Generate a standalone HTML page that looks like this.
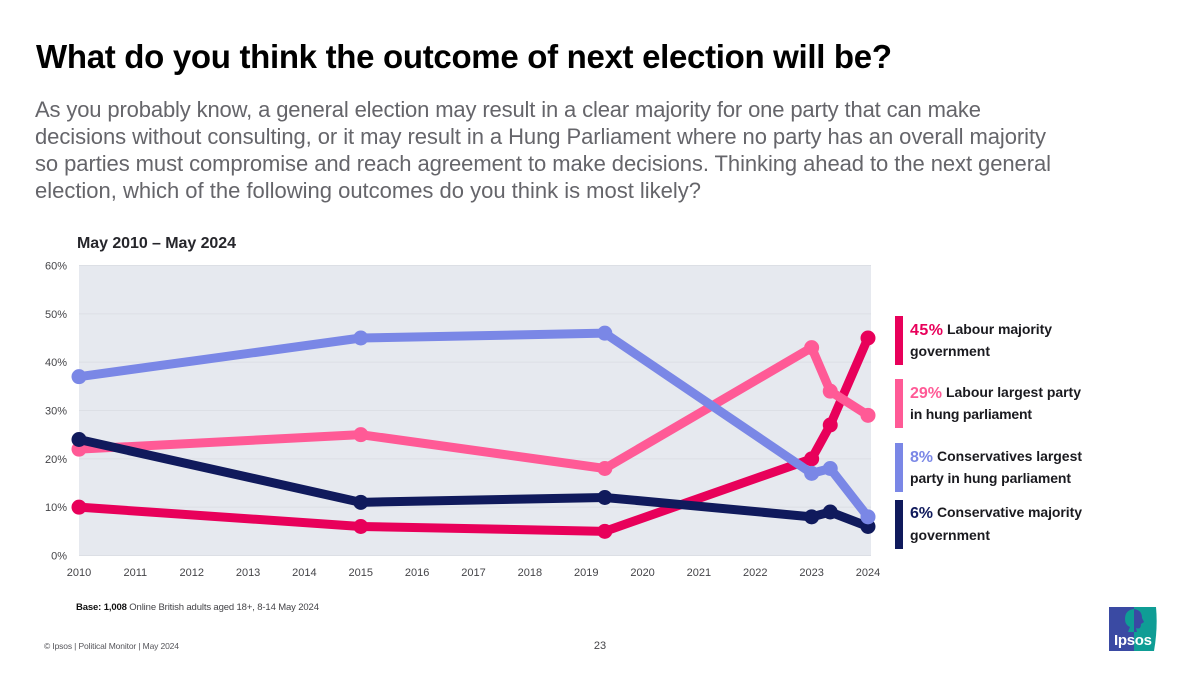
<!DOCTYPE html>
<html lang="en">
<head>
<meta charset="utf-8">
<title>What do you think the outcome of next election will be?</title>
<style>
html,body{margin:0;padding:0;background:#fff;width:1200px;height:675px;overflow:hidden}
svg{display:block}
text{font-family:"Liberation Sans",sans-serif}
.sub{font-size:22px;fill:#65656a}
.lg{font-size:14px;font-weight:700;fill:#1a1a1f}
.pc{font-size:16px;font-weight:700}
.tick{font-size:11px;fill:#444448}
</style>
</head>
<body>
<svg id="slide" width="1200" height="675" viewBox="0 0 1200 675" xmlns="http://www.w3.org/2000/svg">
  <text x="36" y="68" font-size="33" font-weight="700" fill="#000" textLength="856" lengthAdjust="spacing">What do you think the outcome of next election will be?</text>
  <g>
    <text class="sub" x="35" y="117" textLength="946" lengthAdjust="spacing">As you probably know, a general election may result in a clear majority for one party that can make</text>
    <text class="sub" x="35" y="144" textLength="1011" lengthAdjust="spacing">decisions without consulting, or it may result in a Hung Parliament where no party has an overall majority</text>
    <text class="sub" x="35" y="171" textLength="1016" lengthAdjust="spacing">so parties must compromise and reach agreement to make decisions. Thinking ahead to the next general</text>
    <text class="sub" x="35" y="198" textLength="666" lengthAdjust="spacing">election, which of the following outcomes do you think is most likely?</text>
  </g>
  <text x="77" y="248" font-size="16" font-weight="700" fill="#26262b" textLength="159" lengthAdjust="spacing">May 2010 – May 2024</text>

  <rect x="79" y="265" width="792" height="291" fill="#e6e9ef"/>
  <g id="grid"></g>
  <g id="yaxis"></g>
  <g id="xaxis"></g>
  <g id="series"></g>

  <g>
    <rect x="895" y="316" width="8" height="49" fill="#e8005a"/>
    <text class="pc" x="910" y="335" fill="#e8005a" textLength="33" lengthAdjust="spacing">45%</text>
    <text class="lg" x="947" y="334" textLength="105" lengthAdjust="spacing">Labour majority</text>
    <text class="lg" x="910" y="356" textLength="80" lengthAdjust="spacing">government</text>
  </g>
  <g>
    <rect x="895" y="379" width="8" height="49" fill="#ff5a96"/>
    <text class="pc" x="910" y="398" fill="#ff5a96" textLength="32" lengthAdjust="spacing">29%</text>
    <text class="lg" x="946" y="397" textLength="135" lengthAdjust="spacing">Labour largest party</text>
    <text class="lg" x="910" y="419" textLength="122" lengthAdjust="spacing">in hung parliament</text>
  </g>
  <g>
    <rect x="895" y="443" width="8" height="49" fill="#7a87e6"/>
    <text class="pc" x="910" y="462" fill="#7a87e6" textLength="23" lengthAdjust="spacing">8%</text>
    <text class="lg" x="937" y="461" textLength="145" lengthAdjust="spacing">Conservatives largest</text>
    <text class="lg" x="910" y="483" textLength="161" lengthAdjust="spacing">party in hung parliament</text>
  </g>
  <g>
    <rect x="895" y="500" width="8" height="49" fill="#101a5c"/>
    <text class="pc" x="910" y="518" fill="#101a5c" textLength="23" lengthAdjust="spacing">6%</text>
    <text class="lg" x="937" y="517" textLength="145" lengthAdjust="spacing">Conservative majority</text>
    <text class="lg" x="910" y="540" textLength="80" lengthAdjust="spacing">government</text>
  </g>

  <text x="76" y="610" font-size="9.5" fill="#444448" textLength="243" lengthAdjust="spacing"><tspan font-weight="700" fill="#111">Base: 1,008</tspan> Online British adults aged 18+, 8-14 May 2024</text>
  <text x="44" y="649" font-size="8.5" fill="#55555a" textLength="135" lengthAdjust="spacing">© Ipsos | Political Monitor | May 2024</text>
  <text x="600" y="649" font-size="11" fill="#444448" text-anchor="middle">23</text>

  <g>
    <path d="M1109 607H1134V651H1109Z" fill="#3a4aa3"/>
    <path d="M1134 607H1156Q1158 628 1154 651H1134Z" fill="#0f9d95"/>
    <path d="M1134 609Q1125 610 1125 619Q1125 625 1130 627L1128 632H1134Z" fill="#0f9d95"/>
    <path d="M1134 609Q1142 610 1142 618L1144 622L1141 624Q1141 630 1136 628L1137 632H1134Z" fill="#3a4aa3"/>
    <text x="1133" y="645" font-size="15" font-weight="700" fill="#fff" text-anchor="middle" textLength="38" lengthAdjust="spacing">Ipsos</text>
  </g>
</svg>
<script>
var yTicks = [0, 10, 20, 30, 40, 50, 60];
var yearTicks = [2010, 2011, 2012, 2013, 2014, 2015, 2016, 2017, 2018, 2019, 2020, 2021, 2022, 2023, 2024];
var wavePositions = [2010, 2015, 2019.33, 2023, 2023.33, 2024];
var labourMajority = [10, 6, 5, 20, 27, 45];
var labourLargest = [22, 25, 18, 43, 34, 29];
var conservativeMajority = [24, 11, 12, 8, 9, 6];
var conservativesLargest = [37, 45, 46, 17, 18, 8];

var NS = 'http://www.w3.org/2000/svg';
function xScale(t) { return 79 + (t - 2010) * (868 - 79) / 14; }
function yScale(v) { return 555.5 - v * (290 / 60); }
function make(tag, parent) {
  var el = document.createElementNS(NS, tag);
  parent.appendChild(el);
  return el;
}

var gridGroup = document.getElementById('grid');
var yGroup = document.getElementById('yaxis');
var xGroup = document.getElementById('xaxis');
var seriesGroup = document.getElementById('series');

yTicks.forEach(function (v) {
  var line = make('line', gridGroup);
  
  
  line.setAttribute('x1', 79);
  line.setAttribute('x2', 871);
  line.setAttribute('y1', yScale(v));
  line.setAttribute('y2', yScale(v));
  line.setAttribute('stroke', '#dcdfe5');
  line.setAttribute('stroke-width', 1);
  var label = make('text', yGroup);
  
  
  label.setAttribute('class', 'tick');
  label.setAttribute('x', 67);
  label.setAttribute('y', yScale(v) + 4);
  label.setAttribute('text-anchor', 'end');
  label.textContent = v + '%';
});

yearTicks.forEach(function (t) {
  var label = make('text', xGroup);
  
  
  label.setAttribute('class', 'tick');
  label.setAttribute('x', xScale(t));
  label.setAttribute('y', 576);
  label.setAttribute('text-anchor', 'middle');
  label.textContent = t;
});

function drawSeries(name, values, color) {
  var group = make('g', seriesGroup);
  
  
  var pts = values.map(function (v, i) {
    return xScale(wavePositions[i]) + ',' + yScale(v);
  }).join(' ');
  var line = make('polyline', group);
  
  
  line.setAttribute('points', pts);
  line.setAttribute('fill', 'none');
  line.setAttribute('stroke', color);
  line.setAttribute('stroke-width', 9);
  line.setAttribute('stroke-linejoin', 'round');
  values.forEach(function (v, i) {
    var dot = make('circle', group);
    
    
    dot.setAttribute('cx', xScale(wavePositions[i]));
    dot.setAttribute('cy', yScale(v));
    dot.setAttribute('r', 7.5);
    dot.setAttribute('fill', color);
  });
}

drawSeries('labour-majority-series', labourMajority, '#e8005a');
drawSeries('labour-largest-series', labourLargest, '#ff5a96');
drawSeries('conservative-majority-series', conservativeMajority, '#101a5c');
drawSeries('conservatives-largest-series', conservativesLargest, '#7a87e6');
</script>
</body>
</html>
